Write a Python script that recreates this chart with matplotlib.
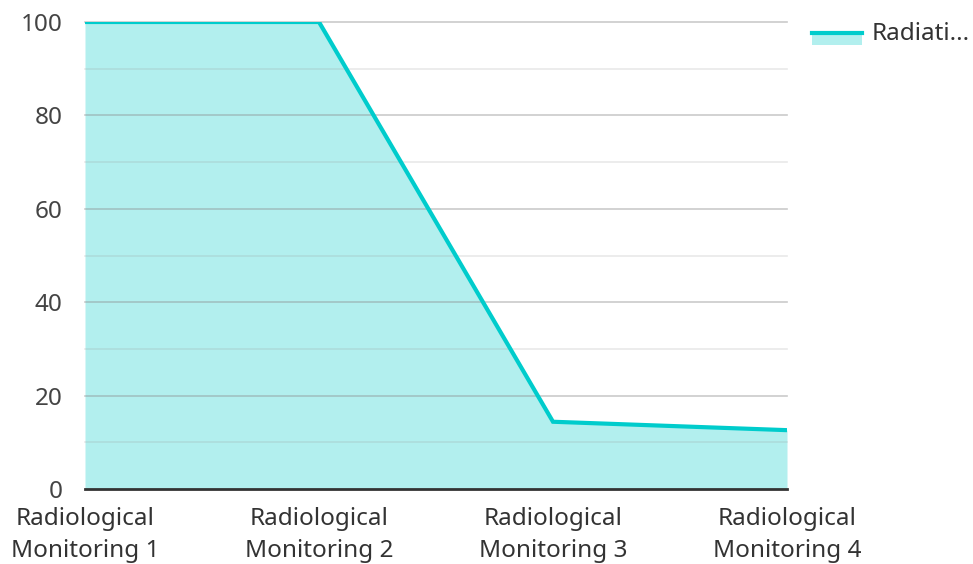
import matplotlib.pyplot as plt
import matplotlib.patches as mpatches
import matplotlib.lines as mlines

plt.rcParams['font.family'] = ['Noto Sans', 'DejaVu Sans']

categories = ["Radiological\nMonitoring 1", "Radiological\nMonitoring 2",
              "Radiological\nMonitoring 3", "Radiological\nMonitoring 4"]
values = [100, 100, 14.4, 12.6]
series_name = "Radiati..."

LINE = "#00CCCC"
FILL = "#B2EFEE"

W, H = 973, 564
fig = plt.figure(figsize=(W / 100, H / 100), dpi=100)
ax = fig.add_axes([85 / W, (H - 489) / H, (787 - 85) / W, (489 - 22) / H])

x = range(len(values))
ax.fill_between(x, values, 0, color=FILL, lw=0, zorder=2)
ax.plot(x, values, color=LINE, lw=3, zorder=3, solid_joinstyle='miter')

ax.set_xlim(0, len(values) - 1)
ax.set_ylim(0, 100)
ax.set_yticks(range(0, 101, 20))

# gridlines drawn over the fill, major every 20, minor every 10
for v in range(10, 101, 10):
    col = (0.55, 0.55, 0.55, 0.45) if v % 20 == 0 else (0.6, 0.6, 0.6, 0.22)
    ax.axhline(v, color=col, lw=1.2, zorder=2.5, clip_on=False)

ax.set_xticks(list(x))
ax.set_xticklabels(categories, fontsize=17.5, color='#333333', linespacing=1.42)
ax.tick_params(axis='x', length=0, pad=13)
ax.tick_params(axis='y', length=0, pad=16, labelsize=17.5, labelcolor='#444444')

for s in ['top', 'right', 'left']:
    ax.spines[s].set_visible(False)
ax.spines['bottom'].set_color('#333333')
ax.spines['bottom'].set_linewidth(2)
ax.spines['bottom'].set_zorder(4)

# legend
fig.add_artist(mpatches.Rectangle((812 / W, (H - 45) / H), 50 / W, 12 / H,
                                  transform=fig.transFigure, color=FILL, lw=0))
fig.add_artist(mlines.Line2D([812 / W, 862 / W], [(H - 33) / H] * 2,
                             transform=fig.transFigure, color=LINE, lw=3))
fig.text(872 / W, (H - 34) / H, series_name, fontsize=17.5, color='#333333',
         va='center', ha='left')

fig.savefig('out.png', dpi=100)
